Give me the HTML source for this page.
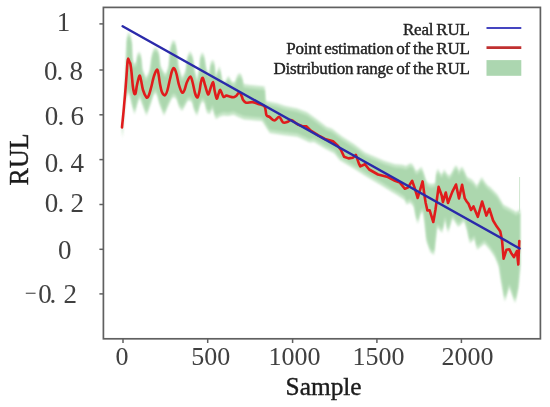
<!DOCTYPE html>
<html><head><meta charset="utf-8"><style>
html,body{margin:0;padding:0;background:#fff;}
svg{display:block;filter:blur(0.4px);}
text{font-family:"Liberation Serif","Noto Serif CJK SC",serif;fill:#404040;}
.ax{fill:#1c1c1c;stroke:#1c1c1c;stroke-width:0.4px;}
.lg{fill:#222;stroke:#222;stroke-width:0.4px;}
</style></head><body>
<svg width="550" height="407" viewBox="0 0 550 407">
<rect x="0" y="0" width="550" height="407" fill="#fff"/>
<defs><filter id="gb" x="-5%" y="-5%" width="110%" height="110%"><feGaussianBlur stdDeviation="0.9"/></filter></defs>
<polygon points="122.0,128.0 124.5,100.0 126.3,60.0 126.8,40.0 128.0,33.0 129.5,32.8 131.5,40.0 132.3,58.0 133.5,64.0 136.5,62.0 137.2,55.0 139.0,51.3 140.9,55.0 142.0,68.0 146.0,78.0 150.0,70.0 151.9,55.0 154.0,48.0 156.5,47.7 158.7,52.0 160.0,65.0 163.7,72.0 166.0,74.0 169.0,65.0 170.4,48.0 172.5,40.4 175.0,41.0 176.6,50.0 178.0,65.0 182.0,78.0 186.0,70.0 187.6,56.0 190.0,50.9 192.6,56.0 194.0,68.0 197.0,81.0 199.5,68.0 200.5,56.0 202.3,52.1 204.2,56.0 206.0,68.0 209.0,75.0 211.0,62.0 212.5,59.8 214.2,62.0 215.5,76.0 217.9,70.0 219.2,66.0 220.4,70.0 222.0,80.0 225.0,82.0 227.1,78.0 228.4,75.8 229.6,78.0 232.0,82.0 235.0,82.0 237.0,76.0 239.5,72.7 241.9,76.0 243.5,84.0 250.0,85.0 255.0,85.5 260.0,86.0 264.6,86.5 265.5,100.9 276.9,103.3 285.0,106.0 297.3,108.5 307.1,112.2 317.0,119.6 326.8,127.0 331.6,128.5 342.7,137.1 354.5,144.5 364.8,152.6 383.9,160.7 395.0,164.2 402.4,164.8 406.0,166.0 409.0,164.0 411.0,163.2 413.0,165.0 415.9,171.0 418.0,170.0 421.4,166.7 423.5,172.0 425.7,179.6 428.2,183.3 432.0,184.0 435.5,183.0 436.5,172.0 438.0,168.5 439.5,172.0 441.7,174.7 443.5,171.0 444.3,169.1 445.5,172.0 449.2,175.9 452.0,172.0 454.5,167.0 456.0,165.4 457.5,167.0 459.0,172.0 460.5,168.0 462.1,166.7 464.0,170.0 467.0,177.1 471.9,179.6 474.0,182.0 476.9,185.7 479.5,181.0 481.8,177.1 484.0,181.0 487.9,185.7 490.0,187.1 497.4,194.5 503.3,204.8 509.2,207.7 516.5,212.1 520.2,209.0 520.2,265.0 518.0,290.0 515.1,303.3 509.2,287.0 504.8,301.8 501.0,280.0 499.2,267.4 494.8,257.1 490.0,250.0 484.5,243.8 477.1,249.7 474.5,239.0 470.1,243.3 469.7,242.4 467.0,230.0 464.2,221.2 458.3,227.1 452.4,218.3 448.0,233.0 445.1,219.7 442.1,233.0 437.0,227.1 435.5,240.0 434.0,255.1 430.3,252.1 426.7,241.8 425.0,225.0 423.0,210.9 420.0,215.0 417.8,224.1 416.0,218.0 414.0,207.0 410.0,202.5 406.8,204.7 404.5,199.9 397.0,195.0 392.7,192.6 381.0,185.2 366.2,176.4 354.5,169.0 339.7,160.2 334.5,153.5 325.7,149.0 313.9,142.0 309.6,142.5 297.3,136.7 284.5,135.3 269.7,133.1 264.0,124.0 262.0,121.0 255.0,120.5 250.0,120.0 243.9,119.5 238.0,117.0 233.6,114.8 228.0,116.0 223.3,115.5 219.0,117.0 216.0,119.2 214.0,114.0 212.5,108.0 210.0,114.0 207.0,113.0 205.0,104.0 202.5,101.0 200.0,105.0 197.0,116.0 194.0,110.0 192.5,103.0 190.0,100.5 187.5,101.0 185.0,106.0 182.0,111.0 179.0,107.0 177.0,100.0 174.5,96.9 172.0,98.0 169.1,104.0 164.0,115.7 159.3,104.0 158.0,98.0 155.6,92.4 153.0,96.0 150.7,104.0 146.5,115.7 142.1,104.0 139.7,97.3 137.2,104.0 134.5,114.5 131.7,104.0 130.0,96.0 127.5,92.0 125.0,105.0 123.0,128.0 122.0,139.0" fill="#c6e6c7" stroke="none" filter="url(#gb)"/>
<polygon points="122.0,131.5 122.5,125.9 123.0,120.3 123.5,114.7 124.0,109.1 124.5,103.5 125.0,92.4 125.5,81.3 126.0,70.2 126.5,55.5 127.0,42.3 127.5,39.4 128.0,36.5 128.5,36.4 129.0,36.4 129.5,36.3 130.0,38.1 130.5,39.9 131.0,41.7 131.5,43.5 132.0,54.7 132.5,62.5 133.0,65.0 133.5,67.5 134.0,67.2 134.5,66.8 135.0,66.5 135.5,66.2 136.0,65.8 136.5,65.5 137.0,60.5 137.5,57.9 138.0,56.9 138.5,55.8 139.0,54.8 139.5,55.8 140.0,56.7 140.5,57.7 141.0,59.7 141.5,65.6 142.0,71.5 142.5,72.8 143.0,74.0 143.5,75.2 144.0,76.5 144.5,77.8 145.0,79.0 145.5,80.2 146.0,81.5 146.5,80.5 147.0,79.5 147.5,78.5 148.0,77.5 148.5,76.5 149.0,75.5 149.5,74.5 150.0,73.5 150.5,69.6 151.0,65.6 151.5,61.7 152.0,58.2 152.5,56.5 153.0,54.8 153.5,53.2 154.0,51.5 154.5,51.4 155.0,51.4 155.5,51.3 156.0,51.3 156.5,51.2 157.0,52.2 157.5,53.2 158.0,54.1 158.5,55.1 159.0,58.5 159.5,63.5 160.0,68.5 160.5,69.4 161.0,70.4 161.5,71.3 162.0,72.3 162.5,73.2 163.0,74.2 163.5,75.1 164.0,75.8 164.5,76.2 165.0,76.6 165.5,77.1 166.0,77.5 166.5,76.0 167.0,74.5 167.5,73.0 168.0,71.5 168.5,70.0 169.0,68.5 169.5,62.4 170.0,56.4 170.5,51.1 171.0,49.3 171.5,47.5 172.0,45.7 172.5,43.9 173.0,44.0 173.5,44.1 174.0,44.3 174.5,44.4 175.0,44.5 175.5,47.3 176.0,50.1 176.5,52.9 177.0,57.8 177.5,63.1 178.0,68.5 178.5,70.1 179.0,71.8 179.5,73.4 180.0,75.0 180.5,76.6 181.0,78.2 181.5,79.9 182.0,81.5 182.5,80.5 183.0,79.5 183.5,78.5 184.0,77.5 184.5,76.5 185.0,75.5 185.5,74.5 186.0,73.5 186.5,69.1 187.0,64.7 187.5,60.4 188.0,58.6 188.5,57.6 189.0,56.5 189.5,55.5 190.0,54.4 190.5,55.4 191.0,56.4 191.5,57.3 192.0,58.3 192.5,59.3 193.0,62.9 193.5,67.2 194.0,71.5 194.5,73.7 195.0,75.8 195.5,78.0 196.0,80.2 196.5,82.3 197.0,84.5 197.5,81.9 198.0,79.3 198.5,76.7 199.0,74.1 199.5,71.5 200.0,65.5 200.5,59.5 201.0,58.4 201.5,57.3 202.0,56.3 202.5,56.0 203.0,57.0 203.5,58.1 204.0,59.1 204.5,61.5 205.0,64.8 205.5,68.2 206.0,71.5 206.5,72.7 207.0,73.8 207.5,75.0 208.0,76.2 208.5,77.3 209.0,78.5 209.5,75.2 210.0,72.0 210.5,68.8 211.0,65.5 211.5,64.8 212.0,64.0 212.5,63.3 213.0,63.9 213.5,64.6 214.0,65.2 214.5,68.7 215.0,74.1 215.5,79.5 216.0,78.2 216.5,77.0 217.0,75.8 217.5,74.5 218.0,73.2 218.5,71.7 219.0,70.1 219.5,70.5 220.0,72.2 220.5,74.1 221.0,77.2 221.5,80.4 222.0,83.5 222.5,83.8 223.0,84.2 223.5,84.5 224.0,84.8 224.5,85.2 225.0,85.5 225.5,84.5 226.0,83.6 226.5,82.6 227.0,81.7 227.5,80.8 228.0,80.0 228.5,79.5 229.0,80.4 229.5,81.3 230.0,82.2 230.5,83.0 231.0,83.8 231.5,84.7 232.0,85.5 232.5,85.5 233.0,85.5 233.5,85.5 234.0,85.5 234.5,85.5 235.0,85.5 235.5,84.0 236.0,82.5 236.5,81.0 237.0,79.5 237.5,78.8 238.0,78.2 238.5,77.5 239.0,76.9 239.5,76.2 240.0,76.9 240.5,77.6 241.0,78.3 241.5,78.9 242.0,80.0 242.5,82.5 243.0,85.0 243.5,87.5 244.0,87.6 244.5,87.7 245.0,87.7 245.5,87.8 246.0,87.9 246.5,88.0 247.0,88.0 247.5,88.1 248.0,88.2 248.5,88.3 249.0,88.3 249.5,88.4 250.0,88.5 250.5,88.5 251.0,88.6 251.5,88.7 252.0,88.7 252.5,88.8 253.0,88.8 253.5,88.8 254.0,88.9 254.5,89.0 255.0,89.0 255.5,89.0 256.0,89.1 256.5,89.2 257.0,89.2 257.5,89.2 258.0,89.3 258.5,89.3 259.0,89.4 259.5,89.5 260.0,89.5 260.5,89.6 261.0,89.6 261.5,89.7 262.0,89.7 262.5,89.8 263.0,89.8 263.5,89.9 264.0,89.9 264.5,90.0 265.0,96.4 265.5,104.4 266.0,104.5 266.5,104.6 267.0,104.7 267.5,104.8 268.0,104.9 268.5,105.0 269.0,105.1 269.5,105.2 270.0,105.3 270.5,105.5 271.0,105.6 271.5,105.7 272.0,105.8 272.5,105.9 273.0,106.0 273.5,106.1 274.0,106.2 274.5,106.3 275.0,106.4 275.5,106.5 276.0,106.6 276.5,106.7 277.0,106.8 277.5,107.0 278.0,107.2 278.5,107.3 279.0,107.5 279.5,107.7 280.0,107.8 280.5,108.0 281.0,108.2 281.5,108.3 282.0,108.5 282.5,108.7 283.0,108.8 283.5,109.0 284.0,109.2 284.5,109.3 285.0,109.5 285.5,109.6 286.0,109.7 286.5,109.8 287.0,109.9 287.5,110.0 288.0,110.1 288.5,110.2 289.0,110.3 289.5,110.4 290.0,110.5 290.5,110.6 291.0,110.7 291.5,110.8 292.0,110.9 292.5,111.0 293.0,111.1 293.5,111.2 294.0,111.3 294.5,111.4 295.0,111.5 295.5,111.6 296.0,111.7 296.5,111.8 297.0,111.9 297.5,112.1 298.0,112.3 298.5,112.5 299.0,112.6 299.5,112.8 300.0,113.0 300.5,113.2 301.0,113.4 301.5,113.6 302.0,113.8 302.5,114.0 303.0,114.2 303.5,114.3 304.0,114.5 304.5,114.7 305.0,114.9 305.5,115.1 306.0,115.3 306.5,115.5 307.0,115.7 307.5,116.0 308.0,116.4 308.5,116.7 309.0,117.1 309.5,117.5 310.0,117.9 310.5,118.2 311.0,118.6 311.5,119.0 312.0,119.4 312.5,119.7 313.0,120.1 313.5,120.5 314.0,120.9 314.5,121.2 315.0,121.6 315.5,122.0 316.0,122.4 316.5,122.7 317.0,123.1 317.5,123.5 318.0,123.9 318.5,124.2 319.0,124.6 319.5,125.0 320.0,125.4 320.5,125.7 321.0,126.1 321.5,126.5 322.0,126.9 322.5,127.3 323.0,127.6 323.5,128.0 324.0,128.4 324.5,128.8 325.0,129.1 325.5,129.5 326.0,129.9 326.5,130.3 327.0,130.6 327.5,130.7 328.0,130.9 328.5,131.0 329.0,131.2 329.5,131.3 330.0,131.5 330.5,131.7 331.0,131.8 331.5,132.0 332.0,132.3 332.5,132.7 333.0,133.1 333.5,133.5 334.0,133.9 334.5,134.2 335.0,134.6 335.5,135.0 336.0,135.4 336.5,135.8 337.0,136.2 337.5,136.6 338.0,137.0 338.5,137.3 339.0,137.7 339.5,138.1 340.0,138.5 340.5,138.9 341.0,139.3 341.5,139.7 342.0,140.1 342.5,140.4 343.0,140.8 343.5,141.1 344.0,141.4 344.5,141.7 345.0,142.0 345.5,142.4 346.0,142.7 346.5,143.0 347.0,143.3 347.5,143.6 348.0,143.9 348.5,144.2 349.0,144.6 349.5,144.9 350.0,145.2 350.5,145.5 351.0,145.8 351.5,146.1 352.0,146.4 352.5,146.7 353.0,147.1 353.5,147.4 354.0,147.7 354.5,148.0 355.0,148.4 355.5,148.8 356.0,149.2 356.5,149.6 357.0,150.0 357.5,150.4 358.0,150.8 358.5,151.1 359.0,151.5 359.5,151.9 360.0,152.3 360.5,152.7 361.0,153.1 361.5,153.5 362.0,153.9 362.5,154.3 363.0,154.7 363.5,155.1 364.0,155.5 364.5,155.9 365.0,156.2 365.5,156.4 366.0,156.6 366.5,156.8 367.0,157.0 367.5,157.2 368.0,157.5 368.5,157.7 369.0,157.9 369.5,158.1 370.0,158.3 370.5,158.5 371.0,158.7 371.5,158.9 372.0,159.2 372.5,159.4 373.0,159.6 373.5,159.8 374.0,160.0 374.5,160.2 375.0,160.4 375.5,160.6 376.0,160.8 376.5,161.1 377.0,161.3 377.5,161.5 378.0,161.7 378.5,161.9 379.0,162.1 379.5,162.3 380.0,162.5 380.5,162.8 381.0,163.0 381.5,163.2 382.0,163.4 382.5,163.6 383.0,163.8 383.5,164.0 384.0,164.2 384.5,164.4 385.0,164.5 385.5,164.7 386.0,164.9 386.5,165.0 387.0,165.2 387.5,165.3 388.0,165.5 388.5,165.7 389.0,165.8 389.5,166.0 390.0,166.1 390.5,166.3 391.0,166.4 391.5,166.6 392.0,166.8 392.5,166.9 393.0,167.1 393.5,167.2 394.0,167.4 394.5,167.5 395.0,167.7 395.5,167.7 396.0,167.8 396.5,167.8 397.0,167.9 397.5,167.9 398.0,167.9 398.5,168.0 399.0,168.0 399.5,168.1 400.0,168.1 400.5,168.1 401.0,168.2 401.5,168.2 402.0,168.3 402.5,168.3 403.0,168.5 403.5,168.7 404.0,168.8 404.5,169.0 405.0,169.2 405.5,169.3 406.0,169.5 406.5,169.2 407.0,168.8 407.5,168.5 408.0,168.2 408.5,167.8 409.0,167.5 409.5,167.3 410.0,167.1 410.5,166.9 411.0,166.7 411.5,167.1 412.0,167.6 412.5,168.1 413.0,168.5 413.5,169.5 414.0,170.6 414.5,171.6 415.0,172.6 415.5,173.7 416.0,174.5 416.5,174.2 417.0,174.0 417.5,173.7 418.0,173.5 418.5,173.0 419.0,172.5 419.5,172.0 420.0,171.6 420.5,171.1 421.0,170.6 421.5,170.5 422.0,171.7 422.5,173.0 423.0,174.2 423.5,175.5 424.0,177.2 424.5,179.0 425.0,180.7 425.5,182.4 426.0,183.5 426.5,184.3 427.0,185.0 427.5,185.8 428.0,186.5 428.5,186.9 429.0,186.9 429.5,187.0 430.0,187.1 430.5,187.2 431.0,187.3 431.5,187.4 432.0,187.5 432.5,187.4 433.0,187.2 433.5,187.1 434.0,186.9 434.5,186.8 435.0,186.6 435.5,186.5 436.0,181.0 436.5,175.5 437.0,174.3 437.5,173.2 438.0,172.0 438.5,173.2 439.0,174.3 439.5,175.5 440.0,176.1 440.5,176.7 441.0,177.3 441.5,178.0 442.0,177.6 442.5,176.6 443.0,175.5 443.5,174.5 444.0,173.3 444.5,173.1 445.0,174.3 445.5,175.5 446.0,176.0 446.5,176.6 447.0,177.1 447.5,177.6 448.0,178.1 448.5,178.7 449.0,179.2 449.5,179.0 450.0,178.3 450.5,177.6 451.0,176.9 451.5,176.2 452.0,175.5 452.5,174.5 453.0,173.5 453.5,172.5 454.0,171.5 454.5,170.5 455.0,170.0 455.5,169.4 456.0,168.9 456.5,169.4 457.0,170.0 457.5,170.5 458.0,172.2 458.5,173.8 459.0,175.5 459.5,174.2 460.0,172.8 460.5,171.5 461.0,171.1 461.5,170.7 462.0,170.3 462.5,170.9 463.0,171.8 463.5,172.6 464.0,173.5 464.5,174.7 465.0,175.9 465.5,177.1 466.0,178.2 466.5,179.4 467.0,180.6 467.5,180.9 468.0,181.1 468.5,181.4 469.0,181.6 469.5,181.9 470.0,182.1 470.5,182.4 471.0,182.6 471.5,182.9 472.0,183.2 472.5,183.8 473.0,184.4 473.5,184.9 474.0,185.5 474.5,186.1 475.0,186.8 475.5,187.4 476.0,188.1 476.5,188.7 477.0,189.0 477.5,188.1 478.0,187.2 478.5,186.3 479.0,185.4 479.5,184.5 480.0,183.7 480.5,182.8 481.0,182.0 481.5,181.1 482.0,181.0 482.5,181.8 483.0,182.7 483.5,183.6 484.0,184.5 484.5,185.1 485.0,185.7 485.5,186.3 486.0,186.9 486.5,187.5 487.0,188.1 487.5,188.7 488.0,189.3 488.5,189.6 489.0,189.9 489.5,190.3 490.0,190.6 490.5,191.1 491.0,191.6 491.5,192.1 492.0,192.6 492.5,193.1 493.0,193.6 493.5,194.1 494.0,194.6 494.5,195.1 495.0,195.6 495.5,196.1 496.0,196.6 496.5,197.1 497.0,197.6 497.5,198.2 498.0,199.0 498.5,199.9 499.0,200.8 499.5,201.7 500.0,202.5 500.5,203.4 501.0,204.3 501.5,205.2 502.0,206.0 502.5,206.9 503.0,207.8 503.5,208.4 504.0,208.6 504.5,208.9 505.0,209.1 505.5,209.4 506.0,209.6 506.5,209.9 507.0,210.1 507.5,210.4 508.0,210.6 508.5,210.9 509.0,211.1 509.5,211.4 510.0,211.7 510.5,212.0 511.0,212.3 511.5,212.6 512.0,212.9 512.5,213.2 513.0,213.5 513.5,213.8 514.0,214.1 514.5,214.4 515.0,214.7 515.5,215.0 516.0,215.3 516.5,215.6 517.0,215.2 517.5,214.8 518.0,214.3 518.5,213.9 519.0,213.5 519.5,213.1 520.0,212.7 520.0,263.8 519.5,269.5 519.0,275.1 518.5,280.8 518.0,286.5 517.5,288.8 517.0,291.1 516.5,293.4 516.0,295.7 515.5,298.0 515.0,299.5 514.5,298.1 514.0,296.8 513.5,295.4 513.0,294.0 512.5,292.6 512.0,291.2 511.5,289.9 511.0,288.5 510.5,287.1 510.0,285.7 509.5,284.3 509.0,284.2 508.5,285.9 508.0,287.5 507.5,289.2 507.0,290.9 506.5,292.6 506.0,294.3 505.5,295.9 505.0,297.6 504.5,296.6 504.0,293.7 503.5,290.8 503.0,288.0 502.5,285.1 502.0,282.2 501.5,279.4 501.0,276.5 500.5,273.0 500.0,269.5 499.5,266.0 499.0,263.4 498.5,262.3 498.0,261.1 497.5,259.9 497.0,258.8 496.5,257.6 496.0,256.4 495.5,255.2 495.0,254.1 494.5,253.2 494.0,252.4 493.5,251.7 493.0,250.9 492.5,250.2 492.0,249.5 491.5,248.7 491.0,248.0 490.5,247.2 490.0,246.5 489.5,245.9 489.0,245.4 488.5,244.8 488.0,244.2 487.5,243.7 487.0,243.1 486.5,242.6 486.0,242.0 485.5,241.4 485.0,240.9 484.5,240.3 484.0,240.7 483.5,241.1 483.0,241.5 482.5,241.9 482.0,242.3 481.5,242.7 481.0,243.1 480.5,243.5 480.0,243.9 479.5,244.3 479.0,244.7 478.5,245.1 478.0,245.5 477.5,245.9 477.0,245.8 476.5,243.7 476.0,241.7 475.5,239.6 475.0,237.6 474.5,235.5 474.0,236.0 473.5,236.5 473.0,237.0 472.5,237.5 472.0,237.9 471.5,238.4 471.0,238.9 470.5,239.4 470.0,239.6 469.5,238.0 469.0,235.7 468.5,233.4 468.0,231.1 467.5,228.8 467.0,226.5 466.5,224.9 466.0,223.4 465.5,221.8 465.0,220.2 464.5,218.6 464.0,217.9 463.5,218.4 463.0,218.9 462.5,219.4 462.0,219.9 461.5,220.4 461.0,220.9 460.5,221.4 460.0,221.9 459.5,222.4 459.0,222.9 458.5,223.4 458.0,223.2 457.5,222.4 457.0,221.7 456.5,220.9 456.0,220.2 455.5,219.4 455.0,218.7 454.5,217.9 454.0,217.2 453.5,216.4 453.0,215.7 452.5,214.9 452.0,216.1 451.5,217.8 451.0,219.5 450.5,221.1 450.0,222.8 449.5,224.5 449.0,226.2 448.5,227.8 448.0,229.5 447.5,227.2 447.0,224.9 446.5,222.6 446.0,220.3 445.5,218.0 445.0,216.6 444.5,218.9 444.0,221.1 443.5,223.3 443.0,225.5 442.5,227.7 442.0,229.4 441.5,228.8 441.0,228.2 440.5,227.6 440.0,227.1 439.5,226.5 439.0,225.9 438.5,225.3 438.0,224.8 437.5,224.2 437.0,223.6 436.5,227.9 436.0,232.2 435.5,236.5 435.0,241.5 434.5,246.6 434.0,251.6 433.5,251.2 433.0,250.8 432.5,250.4 432.0,250.0 431.5,249.6 431.0,249.2 430.5,248.8 430.0,247.7 429.5,246.3 429.0,244.9 428.5,243.4 428.0,242.0 427.5,240.6 427.0,239.2 426.5,236.3 426.0,231.4 425.5,226.4 425.0,221.5 424.5,218.0 424.0,214.4 423.5,210.9 423.0,207.4 422.5,208.1 422.0,208.8 421.5,209.4 421.0,210.1 420.5,210.8 420.0,211.5 419.5,213.6 419.0,215.6 418.5,217.7 418.0,219.8 417.5,219.6 417.0,217.9 416.5,216.2 416.0,214.5 415.5,211.8 415.0,209.0 414.5,206.2 414.0,203.5 413.5,202.9 413.0,202.4 412.5,201.8 412.0,201.2 411.5,200.7 411.0,200.1 410.5,199.6 410.0,199.0 409.5,199.3 409.0,199.7 408.5,200.0 408.0,200.4 407.5,200.7 407.0,201.1 406.5,200.6 406.0,199.5 405.5,198.5 405.0,197.4 404.5,196.4 404.0,196.1 403.5,195.7 403.0,195.4 402.5,195.1 402.0,194.8 401.5,194.4 401.0,194.1 400.5,193.8 400.0,193.5 399.5,193.1 399.0,192.8 398.5,192.5 398.0,192.2 397.5,191.8 397.0,191.5 396.5,191.2 396.0,190.9 395.5,190.7 395.0,190.4 394.5,190.1 394.0,189.8 393.5,189.5 393.0,189.3 392.5,189.0 392.0,188.7 391.5,188.3 391.0,188.0 390.5,187.7 390.0,187.4 389.5,187.1 389.0,186.8 388.5,186.4 388.0,186.1 387.5,185.8 387.0,185.5 386.5,185.2 386.0,184.9 385.5,184.5 385.0,184.2 384.5,183.9 384.0,183.6 383.5,183.3 383.0,183.0 382.5,182.6 382.0,182.3 381.5,182.0 381.0,181.7 380.5,181.4 380.0,181.1 379.5,180.8 379.0,180.5 378.5,180.2 378.0,179.9 377.5,179.6 377.0,179.3 376.5,179.0 376.0,178.7 375.5,178.4 375.0,178.1 374.5,177.8 374.0,177.5 373.5,177.2 373.0,176.9 372.5,176.6 372.0,176.3 371.5,176.1 371.0,175.8 370.5,175.5 370.0,175.2 369.5,174.9 369.0,174.6 368.5,174.3 368.0,174.0 367.5,173.7 367.0,173.4 366.5,173.1 366.0,172.8 365.5,172.5 365.0,172.1 364.5,171.8 364.0,171.5 363.5,171.2 363.0,170.9 362.5,170.6 362.0,170.2 361.5,169.9 361.0,169.6 360.5,169.3 360.0,169.0 359.5,168.7 359.0,168.3 358.5,168.0 358.0,167.7 357.5,167.4 357.0,167.1 356.5,166.8 356.0,166.4 355.5,166.1 355.0,165.8 354.5,165.5 354.0,165.2 353.5,164.9 353.0,164.6 352.5,164.3 352.0,164.0 351.5,163.7 351.0,163.4 350.5,163.1 350.0,162.8 349.5,162.5 349.0,162.2 348.5,161.9 348.0,161.6 347.5,161.3 347.0,161.0 346.5,160.7 346.0,160.4 345.5,160.1 345.0,159.9 344.5,159.6 344.0,159.3 343.5,159.0 343.0,158.7 342.5,158.4 342.0,158.1 341.5,157.8 341.0,157.5 340.5,157.2 340.0,156.9 339.5,156.4 339.0,155.8 338.5,155.2 338.0,154.5 337.5,153.9 337.0,153.2 336.5,152.6 336.0,151.9 335.5,151.3 335.0,150.6 334.5,150.0 334.0,149.7 333.5,149.5 333.0,149.2 332.5,149.0 332.0,148.7 331.5,148.5 331.0,148.2 330.5,148.0 330.0,147.7 329.5,147.4 329.0,147.2 328.5,146.9 328.0,146.7 327.5,146.4 327.0,146.2 326.5,145.9 326.0,145.7 325.5,145.4 325.0,145.1 324.5,144.8 324.0,144.5 323.5,144.2 323.0,143.9 322.5,143.6 322.0,143.3 321.5,143.0 321.0,142.7 320.5,142.4 320.0,142.1 319.5,141.8 319.0,141.5 318.5,141.2 318.0,140.9 317.5,140.6 317.0,140.3 316.5,140.0 316.0,139.7 315.5,139.4 315.0,139.2 314.5,138.9 314.0,138.6 313.5,138.5 313.0,138.6 312.5,138.7 312.0,138.7 311.5,138.8 311.0,138.8 310.5,138.9 310.0,139.0 309.5,139.0 309.0,138.7 308.5,138.5 308.0,138.2 307.5,138.0 307.0,137.8 306.5,137.5 306.0,137.3 305.5,137.1 305.0,136.8 304.5,136.6 304.0,136.4 303.5,136.1 303.0,135.9 302.5,135.7 302.0,135.4 301.5,135.2 301.0,134.9 300.5,134.7 300.0,134.5 299.5,134.2 299.0,134.0 298.5,133.8 298.0,133.5 297.5,133.3 297.0,133.2 296.5,133.1 296.0,133.1 295.5,133.0 295.0,132.9 294.5,132.9 294.0,132.8 293.5,132.8 293.0,132.7 292.5,132.7 292.0,132.6 291.5,132.6 291.0,132.5 290.5,132.5 290.0,132.4 289.5,132.3 289.0,132.3 288.5,132.2 288.0,132.2 287.5,132.1 287.0,132.1 286.5,132.0 286.0,132.0 285.5,131.9 285.0,131.9 284.5,131.8 284.0,131.7 283.5,131.7 283.0,131.6 282.5,131.5 282.0,131.4 281.5,131.4 281.0,131.3 280.5,131.2 280.0,131.1 279.5,131.1 279.0,131.0 278.5,130.9 278.0,130.8 277.5,130.8 277.0,130.7 276.5,130.6 276.0,130.5 275.5,130.5 275.0,130.4 274.5,130.3 274.0,130.2 273.5,130.2 273.0,130.1 272.5,130.0 272.0,129.9 271.5,129.9 271.0,129.8 270.5,129.7 270.0,129.6 269.5,129.3 269.0,128.5 268.5,127.7 268.0,126.9 267.5,126.1 267.0,125.3 266.5,124.5 266.0,123.7 265.5,122.9 265.0,122.1 264.5,121.3 264.0,120.5 263.5,119.8 263.0,119.0 262.5,118.2 262.0,117.5 261.5,117.5 261.0,117.4 260.5,117.4 260.0,117.4 259.5,117.3 259.0,117.3 258.5,117.2 258.0,117.2 257.5,117.2 257.0,117.1 256.5,117.1 256.0,117.1 255.5,117.0 255.0,117.0 254.5,117.0 254.0,116.9 253.5,116.8 253.0,116.8 252.5,116.8 252.0,116.7 251.5,116.7 251.0,116.6 250.5,116.5 250.0,116.5 249.5,116.5 249.0,116.4 248.5,116.4 248.0,116.3 247.5,116.3 247.0,116.3 246.5,116.2 246.0,116.2 245.5,116.1 245.0,116.1 244.5,116.0 244.0,116.0 243.5,115.8 243.0,115.6 242.5,115.4 242.0,115.2 241.5,115.0 241.0,114.8 240.5,114.6 240.0,114.3 239.5,114.1 239.0,113.9 238.5,113.7 238.0,113.5 237.5,113.2 237.0,113.0 236.5,112.8 236.0,112.5 235.5,112.2 235.0,112.0 234.5,111.8 234.0,111.5 233.5,111.3 233.0,111.4 232.5,111.5 232.0,111.6 231.5,111.8 231.0,111.9 230.5,112.0 230.0,112.1 229.5,112.2 229.0,112.3 228.5,112.4 228.0,112.5 227.5,112.4 227.0,112.4 226.5,112.3 226.0,112.3 225.5,112.2 225.0,112.2 224.5,112.1 224.0,112.1 223.5,112.0 223.0,112.1 222.5,112.3 222.0,112.5 221.5,112.6 221.0,112.8 220.5,113.0 220.0,113.2 219.5,113.3 219.0,113.5 218.5,113.9 218.0,114.2 217.5,114.6 217.0,115.0 216.5,115.3 216.0,115.7 215.5,114.4 215.0,113.1 214.5,111.8 214.0,110.5 213.5,108.5 213.0,106.5 212.5,104.5 212.0,105.7 211.5,106.9 211.0,108.1 210.5,109.3 210.0,110.5 209.5,110.3 209.0,110.2 208.5,110.0 208.0,109.8 207.5,109.7 207.0,109.5 206.5,107.2 206.0,105.0 205.5,102.8 205.0,100.5 204.5,99.9 204.0,99.3 203.5,98.7 203.0,98.1 202.5,97.5 202.0,98.3 201.5,99.1 201.0,99.9 200.5,100.7 200.0,101.5 199.5,103.3 199.0,105.2 198.5,107.0 198.0,108.8 197.5,110.7 197.0,112.5 196.5,111.5 196.0,110.5 195.5,109.5 195.0,108.5 194.5,107.5 194.0,106.5 193.5,104.2 193.0,101.8 192.5,99.5 192.0,99.0 191.5,98.5 191.0,98.0 190.5,97.5 190.0,97.0 189.5,97.1 189.0,97.2 188.5,97.3 188.0,97.4 187.5,97.5 187.0,98.5 186.5,99.5 186.0,100.5 185.5,101.5 185.0,102.5 184.5,103.3 184.0,104.2 183.5,105.0 183.0,105.8 182.5,106.7 182.0,107.5 181.5,106.8 181.0,106.2 180.5,105.5 180.0,104.8 179.5,104.2 179.0,103.5 178.5,101.8 178.0,100.0 177.5,98.2 177.0,96.5 176.5,95.9 176.0,95.3 175.5,94.6 175.0,94.0 174.5,93.4 174.0,93.6 173.5,93.8 173.0,94.1 172.5,94.3 172.0,94.5 171.5,95.5 171.0,96.6 170.5,97.6 170.0,98.6 169.5,99.7 169.0,100.7 168.5,101.9 168.0,103.0 167.5,104.2 167.0,105.3 166.5,106.5 166.0,107.6 165.5,108.8 165.0,109.9 164.5,111.1 164.0,112.2 163.5,111.0 163.0,109.7 162.5,108.5 162.0,107.2 161.5,106.0 161.0,104.7 160.5,103.5 160.0,102.2 159.5,101.0 159.0,99.1 158.5,96.8 158.0,94.5 157.5,93.3 157.0,92.2 156.5,91.0 156.0,89.8 155.5,89.0 155.0,89.7 154.5,90.4 154.0,91.1 153.5,91.8 153.0,92.5 152.5,94.2 152.0,96.0 151.5,97.7 151.0,99.5 150.5,101.1 150.0,102.4 149.5,103.8 149.0,105.2 148.5,106.6 148.0,108.0 147.5,109.4 147.0,110.8 146.5,112.2 146.0,110.9 145.5,109.5 145.0,108.2 144.5,106.9 144.0,105.6 143.5,104.2 143.0,102.9 142.5,101.6 142.0,100.2 141.5,98.8 141.0,97.4 140.5,96.0 140.0,94.6 139.5,94.3 139.0,95.7 138.5,97.0 138.0,98.4 137.5,99.7 137.0,101.3 136.5,103.2 136.0,105.2 135.5,107.1 135.0,109.1 134.5,111.0 134.0,109.1 133.5,107.3 133.0,105.4 132.5,103.5 132.0,101.6 131.5,99.6 131.0,97.2 130.5,94.9 130.0,92.5 129.5,91.7 129.0,90.9 128.5,90.1 128.0,89.3 127.5,88.5 127.0,91.1 126.5,93.7 126.0,96.3 125.5,98.9 125.0,101.5 124.5,107.2 124.0,113.0 123.5,118.8 123.0,124.5 122.5,130.0 122.0,135.5" fill="#acd7ae" filter="url(#gb)"/>
<line x1="519.6" y1="177" x2="519.6" y2="212" stroke="#cfe6cf" stroke-width="1"/>
<path d="M122.0,127.5 C122.2,124.9 123.0,117.4 123.5,112.0 C124.0,106.6 124.5,101.0 125.0,95.0 C125.5,89.0 126.1,81.5 126.5,76.0 C126.9,70.5 127.2,64.9 127.5,62.0 C127.8,59.1 127.9,58.6 128.2,58.6 C128.5,58.6 129.1,61.1 129.5,62.0 C129.9,62.9 130.1,62.4 130.4,64.1 C130.7,65.8 131.1,68.3 131.5,72.0 C131.9,75.7 132.4,82.5 132.8,86.0 C133.2,89.5 133.7,91.8 134.1,93.0 C134.5,94.2 135.0,94.8 135.5,93.5 C136.0,92.2 136.3,88.0 137.0,85.0 C137.7,82.0 138.7,76.6 139.4,75.8 C140.1,75.0 140.4,77.6 141.0,80.0 C141.6,82.4 142.1,87.1 143.0,90.0 C143.9,92.9 145.5,96.3 146.4,97.3 C147.3,98.3 147.7,97.5 148.5,96.0 C149.3,94.5 150.1,91.3 151.0,88.0 C151.9,84.7 153.0,79.0 154.0,76.0 C155.0,73.0 156.2,70.0 156.9,69.7 C157.7,69.4 158.0,71.6 158.5,74.0 C159.0,76.4 159.4,81.0 160.0,84.0 C160.6,87.0 161.0,89.9 161.8,91.8 C162.6,93.7 164.1,95.6 165.0,95.3 C165.9,95.0 166.7,92.7 167.5,90.0 C168.3,87.3 169.2,82.2 170.0,79.0 C170.8,75.8 171.3,72.8 172.0,71.0 C172.7,69.2 173.3,67.8 174.1,68.3 C174.8,68.8 175.7,71.2 176.5,74.0 C177.3,76.8 178.1,81.9 179.0,85.0 C179.9,88.1 181.2,91.8 182.1,92.6 C183.0,93.4 183.7,91.8 184.5,90.0 C185.3,88.2 186.0,84.2 187.0,82.0 C188.0,79.8 189.5,76.5 190.4,76.5 C191.3,76.5 191.7,79.2 192.5,82.0 C193.3,84.8 194.2,90.4 195.0,93.0 C195.8,95.6 196.8,97.8 197.5,97.5 C198.2,97.2 198.9,93.6 199.5,91.0 C200.1,88.4 200.4,84.2 201.0,82.0 C201.6,79.8 202.1,77.3 202.8,77.8 C203.5,78.3 204.1,82.2 205.0,85.0 C205.9,87.8 207.2,93.6 208.0,94.4 C208.8,95.2 209.2,92.1 210.0,90.0 C210.8,87.9 212.2,82.0 213.0,82.0 C213.8,82.0 213.9,87.2 214.5,90.0 C215.1,92.8 216.0,97.8 216.7,98.5 C217.4,99.2 217.9,95.4 218.5,94.0 C219.1,92.6 219.6,89.5 220.4,90.0 C221.2,90.5 222.4,95.8 223.4,96.7 C224.4,97.6 225.4,95.7 226.2,95.6 C227.0,95.5 227.1,95.8 228.3,96.1 C229.5,96.4 232.0,97.3 233.3,97.3 C234.6,97.3 235.0,96.8 236.0,96.0 C237.0,95.2 238.4,92.3 239.4,92.4 C240.4,92.5 241.3,95.5 241.9,96.7 C242.5,97.9 242.3,98.7 243.0,99.7 C243.7,100.7 244.5,102.3 246.1,102.7 C247.7,103.1 250.2,101.9 252.3,102.1 C254.4,102.3 256.3,103.3 258.4,104.0 C260.4,104.7 263.3,104.6 264.6,106.4 C265.9,108.2 265.6,113.2 266.4,115.0 C267.2,116.8 268.2,116.0 269.5,116.9 C270.8,117.8 272.8,120.5 274.4,120.5 C276.0,120.5 277.9,116.6 279.3,116.9 C280.7,117.2 281.6,121.6 283.0,122.4 C284.4,123.2 286.5,122.2 287.9,121.8 C289.2,121.4 289.4,119.6 291.1,120.1 C292.8,120.5 296.2,123.5 298.0,124.5 L302.0,126.0 L306.5,126.3 L310.0,130.0 L318.3,135.3 L325.0,139.0 L333.0,141.2 L338.0,146.0 L341.0,150.0 L344.1,156.8 L348.6,158.4 L353.0,157.7 L355.9,154.8 L358.9,163.6 L360.3,166.4 L363.3,165.0 L364.8,164.1 L369.2,169.5 L378.0,174.5 L386.9,176.7 L395.0,180.8 L399.9,182.6 L404.8,188.8 L407.9,187.6 L412.2,180.8 L414.7,188.2 L417.7,198.0 L422.6,181.4 L424.5,195.5 L425.7,203.0 L427.4,210.5 L429.6,210.2 L433.3,222.0 L435.5,209.5 L438.6,186.9 L441.7,195.5 L442.9,202.1 L445.8,192.5 L448.0,203.0 L452.3,191.9 L456.0,184.5 L459.0,198.5 L462.1,184.7 L464.8,198.4 L466.7,201.5 L468.6,203.9 L471.0,210.0 L473.5,206.4 L477.8,216.8 L482.1,201.5 L486.4,215.6 L489.4,208.8 L493.1,220.5 L496.8,226.6 L499.3,230.0 L500.3,231.5 L502.1,240.9 L503.6,258.6 L506.5,249.7 L509.2,249.2 L511.0,252.7 L513.9,257.1 L516.9,251.2 L518.3,264.5 L519.3,241.0" fill="none" stroke="#e01c1c" stroke-width="2.6" stroke-linejoin="round" stroke-linecap="round"/>
<line x1="122.6" y1="26.25" x2="519.6" y2="248.5" stroke="#2a2aaa" stroke-width="2.4" stroke-linecap="round"/>
<rect x="103.4" y="7.4" width="437.0" height="331.4" fill="none" stroke="#606060" stroke-width="1.7"/>
<line x1="99.4" y1="23.9" x2="103.4" y2="23.9" stroke="#606060" stroke-width="1.5"/>
<line x1="99.4" y1="70.0" x2="103.4" y2="70.0" stroke="#606060" stroke-width="1.5"/>
<line x1="99.4" y1="114.8" x2="103.4" y2="114.8" stroke="#606060" stroke-width="1.5"/>
<line x1="99.4" y1="159.6" x2="103.4" y2="159.6" stroke="#606060" stroke-width="1.5"/>
<line x1="99.4" y1="204.5" x2="103.4" y2="204.5" stroke="#606060" stroke-width="1.5"/>
<line x1="99.4" y1="249.3" x2="103.4" y2="249.3" stroke="#606060" stroke-width="1.5"/>
<line x1="99.4" y1="293.9" x2="103.4" y2="293.9" stroke="#606060" stroke-width="1.5"/>
<line x1="123.0" y1="338.8" x2="123.0" y2="343.0" stroke="#606060" stroke-width="1.5"/>
<line x1="207.7" y1="338.8" x2="207.7" y2="343.0" stroke="#606060" stroke-width="1.5"/>
<line x1="292.6" y1="338.8" x2="292.6" y2="343.0" stroke="#606060" stroke-width="1.5"/>
<line x1="376.9" y1="338.8" x2="376.9" y2="343.0" stroke="#606060" stroke-width="1.5"/>
<line x1="461.4" y1="338.8" x2="461.4" y2="343.0" stroke="#606060" stroke-width="1.5"/>
<text x="56.8" y="30.9" font-size="27">1</text>
<text x="44 56.6 63 69.6" y="80.2" font-size="27">0. 8</text>
<text x="44.8 57.4 64 70.4" y="125.2" font-size="27">0. 6</text>
<text x="44.8 57.4 64 70.4" y="171.7" font-size="27">0. 4</text>
<text x="44.8 57.4 64 70.4" y="212.3" font-size="27">0. 2</text>
<text x="58" y="258.9" font-size="27">0</text>
<text x="38.3 49.4 57 63.6" y="303.0" font-size="27">0. 2</text>
<text x="24.8" y="300.2" font-size="21">−</text>
<text x="115.6" y="365" font-size="26">0</text>
<text x="191.2" y="365" font-size="26">500</text>
<text x="268.6" y="365" font-size="26">1000</text>
<text x="352.4" y="365" font-size="26">1500</text>
<text x="441.6" y="365" font-size="26">2000</text>
<text class="ax" x="285.6" y="395.3" font-size="26" textLength="76" lengthAdjust="spacingAndGlyphs">Sample</text>
<text class="ax" transform="translate(28.4,185.4) rotate(-90)" x="0" y="0" font-size="27" textLength="52" lengthAdjust="spacingAndGlyphs">RUL</text>
<text x="469.8" y="34.8" class="lg" font-size="17" text-anchor="end" word-spacing="-1" letter-spacing="-0.19">Real RUL</text>
<text x="469.8" y="54.4" class="lg" font-size="17" text-anchor="end" word-spacing="-1" letter-spacing="-0.19">Point estimation of the RUL</text>
<text x="469.8" y="74" class="lg" font-size="17" text-anchor="end" word-spacing="-1" letter-spacing="-0.19">Distribution range of the RUL</text>
<line x1="486.5" y1="28.1" x2="521.3" y2="28.1" stroke="#4545c0" stroke-width="2"/>
<line x1="486.5" y1="47.6" x2="521.3" y2="47.6" stroke="#c03030" stroke-width="2.6"/>
<rect x="486.5" y="60.1" width="34.8" height="15.7" fill="#acd6b0"/>
</svg>
</body></html>
